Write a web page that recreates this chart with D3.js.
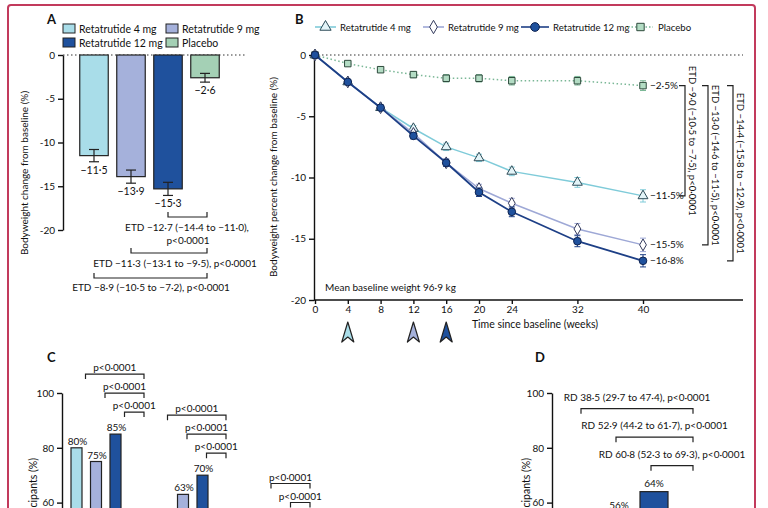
<!DOCTYPE html>
<html lang="en">
<head>
<meta charset="UTF-8">
<title>Retatrutide bodyweight change</title>
<script src="https://d3js.org/d3.v7.min.js"></script>
<style>
body { margin: 0; background: #fff; }
svg { display: block; font-family: Lato, "Noto Sans", sans-serif; fill: #111; }
.axis path, .axis line { stroke: #111; stroke-width: 1.4; }
.axis text { font-size: 10px; fill: #111; font-family: Lato, sans-serif; }
</style>
</head>
<body>
<svg id="chart" width="768" height="508"></svg>
<script>
// ---- data ----
const doses = ["Retatrutide 4 mg", "Retatrutide 9 mg", "Retatrutide 12 mg", "Placebo"];
const fillColors = ["#a9dde9", "#a5b1db", "#1f519d", "#a4d0b5"];
const lineColors = ["#7fcbd9", "#9ea8d6", "#1d3f86", "#7ab796"];

// A: change at week 40
const changeMean = [-11.5, -13.9, -15.3, -2.6];
const changeErr = [0.7, 0.75, 0.75, 0.5];
const changeLabels = ["−11·5", "−13·9", "−15·3", "−2·6"];
const etdA = ["ETD −12·7 (−14·4 to −11·0),", "ETD −11·3 (−13·1 to −9·5), p<0·0001", "ETD −8·9 (−10·5 to −7·2), p<0·0001"];

// B: time course
const weeks = [0, 4, 8, 12, 16, 20, 24, 32, 40];
const pct4 = [0, -2.2, -4.3, -6.0, -7.5, -8.4, -9.5, -10.4, -11.5];
const pct9 = [0, -2.2, -4.3, -6.4, -8.8, -10.9, -12.1, -14.2, -15.5];
const pct12 = [0, -2.2, -4.3, -6.6, -8.8, -11.2, -12.8, -15.2, -16.8];
const pctPbo = [0, -0.7, -1.2, -1.6, -1.9, -1.9, -2.1, -2.1, -2.5];
const se4 = [0, 0.15, 0.2, 0.25, 0.3, 0.3, 0.35, 0.4, 0.5];
const se9 = [0, 0.15, 0.2, 0.25, 0.3, 0.35, 0.4, 0.45, 0.55];
const se12 = [0, 0.15, 0.2, 0.25, 0.3, 0.35, 0.4, 0.45, 0.5];
const sePbo = [0, 0.15, 0.2, 0.25, 0.3, 0.3, 0.35, 0.35, 0.4];
const endLabels = ["−11·5%", "−15·5%", "−16·8%", "−2·5%"];
const etdB = ["ETD −9·0 (−10·5 to −7·5), p<0·0001", "ETD −13·0 (−14·6 to −11·5), p<0·0001", "ETD −14·4 (−15·8 to −12·9), p<0·0001"];
const titrationWeeks = [4, 12, 16];

// C: participants reaching weight-reduction thresholds
const thresholds = ["≥5%", "≥10%", "≥15%"];
const resp4 = [80, 47, 27];
const resp9 = [75, 63, 44];
const resp12 = [85, 70, 52];
const respPbo = [14, 4, 1];
const respPairs = [[0, 1, 2], [0, 1, 2], [1, 2]];

// D
const dPct = [42, 56, 64, 3];
const rdLabels = ["RD 38·5 (29·7 to 47·4), p<0·0001", "RD 52·9 (44·2 to 61·7), p<0·0001", "RD 60·8 (52·3 to 69·3), p<0·0001"];

// ---- drawing ----
const H = 508;
const svg = d3.select("#chart");
const fmtTick = d => d < 0 ? "-" + Math.abs(d) : String(d);

svg.append("rect").attr("x", 8).attr("y", 5).attr("width", 747).attr("height", 560)
    .attr("rx", 3).attr("fill", "none").attr("stroke", "#c23a5c").attr("stroke-width", 2);

function panelLabel(x, y, t) {
    svg.append("text").attr("x", x).attr("y", y).attr("font-size", 13).attr("font-weight", "bold").text(t);
}

// ---------- Panel A ----------
panelLabel(47, 24, "A");
const yA = d3.scaleLinear().domain([-20, 0]).range([230, 55]);
const xA = d3.scaleBand().domain(doses).range([75.5, 223.5]).paddingInner(0.23).paddingOuter(0.115);

// legend
doses.forEach((d, i) => {
    const lx = i % 2 === 0 ? 63 : 166, ly = i < 2 ? 24 : 38;
    svg.append("rect").attr("x", lx).attr("y", ly).attr("width", 12).attr("height", 9)
        .attr("fill", fillColors[i]).attr("stroke", "#222").attr("stroke-width", 1);
    svg.append("text").attr("x", lx + 16).attr("y", ly + 8.5).attr("font-size", 10.5).text(d);
});

svg.append("line").attr("x1", 63).attr("x2", 245).attr("y1", yA(0)).attr("y2", yA(0))
    .attr("stroke", "#333").attr("stroke-width", 1.2).attr("stroke-dasharray", "1.5,2.5");

svg.append("g").attr("class", "axis").attr("transform", "translate(63,0)")
    .call(d3.axisLeft(yA).tickValues([0, -5, -10, -15, -20]).tickFormat(fmtTick).tickSize(5).tickSizeOuter(0).tickPadding(3));

svg.append("g").selectAll("rect").data(doses).join("rect")
    .attr("x", d => xA(d)).attr("y", yA(0)).attr("width", xA.bandwidth())
    .attr("height", (d, i) => yA(changeMean[i]) - yA(0))
    .attr("fill", (d, i) => fillColors[i]).attr("stroke", "#222").attr("stroke-width", 1.2);

doses.forEach((d, i) => {
    const cx = xA(d) + xA.bandwidth() / 2;
    const lo = yA(changeMean[i] - changeErr[i]), hi = yA(changeMean[i] + changeErr[i]);
    const g = svg.append("g").attr("stroke", "#222").attr("stroke-width", 1.2);
    g.append("line").attr("x1", cx).attr("x2", cx).attr("y1", hi).attr("y2", lo);
    g.append("line").attr("x1", cx - 5).attr("x2", cx + 5).attr("y1", hi).attr("y2", hi);
    g.append("line").attr("x1", cx - 5).attr("x2", cx + 5).attr("y1", lo).attr("y2", lo);
    svg.append("text").attr("x", cx).attr("y", lo + 12).attr("text-anchor", "middle")
        .attr("font-size", 10.5).text(changeLabels[i]);
});

// ETD brackets (ticks up)
const cA = i => xA(doses[i]) + xA.bandwidth() / 2;
function bracketUp(x1, x2, y) {
    svg.append("path").attr("d", `M${x1},${y - 5}V${y}H${x2}V${y - 5}`)
        .attr("fill", "none").attr("stroke", "#222").attr("stroke-width", 1.2);
}
bracketUp(cA(2), cA(3) + 2, 217);
svg.append("text").attr("x", 187).attr("y", 231).attr("text-anchor", "middle").attr("font-size", 10).text(etdA[0]);
svg.append("text").attr("x", 188).attr("y", 244).attr("text-anchor", "middle").attr("font-size", 10).text("p<0·0001");
bracketUp(cA(1), cA(3) + 2, 253);
svg.append("text").attr("x", 175).attr("y", 267).attr("text-anchor", "middle").attr("font-size", 10).text(etdA[1]);
bracketUp(cA(0), cA(3) + 2, 278);
svg.append("text").attr("x", 151).attr("y", 291).attr("text-anchor", "middle").attr("font-size", 10).text(etdA[2]);

svg.append("text").attr("transform", "translate(28,173) rotate(-90)").attr("text-anchor", "middle")
    .attr("font-size", 10).text("Bodyweight change from baseline (%)");

// ---------- Panel B ----------
panelLabel(295, 24, "B");
const xB = d3.scaleLinear().domain([0, 40]).range([315, 643]);
const yB = d3.scaleLinear().domain([-20, 0]).range([300, 55]);
const series = [pct4, pct9, pct12, pctPbo];
const ses = [se4, se9, se12, sePbo];
const markers = [d3.symbolTriangle, d3.symbolDiamond, d3.symbolCircle, d3.symbolSquare];
const markerSizes = [42, 40, 46, 42];
const markerFill = ["#e3f4f8", "#ffffff", "#1f519d", "#b3dcc4"];
const markerStroke = ["#2d4b57", "#333a5c", "#0f2350", "#2e4a3c"];

svg.append("line").attr("x1", 314).attr("x2", 743).attr("y1", yB(0)).attr("y2", yB(0))
    .attr("stroke", "#333").attr("stroke-width", 1.2).attr("stroke-dasharray", "1.5,2.5");

svg.append("g").attr("class", "axis").attr("transform", "translate(314,0)")
    .call(d3.axisLeft(yB).tickValues([0, -5, -10, -15, -20]).tickFormat(fmtTick).tickSize(5).tickSizeOuter(0).tickPadding(3));
const xAxisB = svg.append("g").attr("class", "axis").attr("transform", "translate(0,300)")
    .call(d3.axisBottom(xB).tickValues(weeks).tickSize(4).tickSizeOuter(0).tickPadding(2));
xAxisB.select(".domain").attr("d", `M314,0H743`);

// legend B
const legLine = [[315, 336], [423, 444], [521, 549], [628, 653]];
const legText = [340, 448, 553, 658];
doses.forEach((d, i) => {
    const y = 27, [x1, x2] = legLine[i];
    svg.append("line").attr("x1", x1).attr("x2", x2).attr("y1", y).attr("y2", y)
        .attr("stroke", lineColors[i]).attr("stroke-width", 1.6)
        .attr("stroke-dasharray", i === 3 ? "1.5,2" : null);
    svg.append("path").attr("transform", `translate(${(x1 + x2) / 2},${y})`)
        .attr("d", d3.symbol(markers[i], markerSizes[i] * 1.3)())
        .attr("fill", markerFill[i]).attr("stroke", markerStroke[i]).attr("stroke-width", 1);
    svg.append("text").attr("x", legText[i]).attr("y", y + 3.5).attr("font-size", 9.6).text(d);
});

const order = [3, 0, 1, 2];
order.forEach(i => {
    const pts = weeks.map((w, k) => ({ w, v: series[i][k], e: ses[i][k] }));
    svg.append("path").datum(pts)
        .attr("d", d3.line().x(p => xB(p.w)).y(p => yB(p.v)))
        .attr("fill", "none").attr("stroke", lineColors[i])
        .attr("stroke-width", i === 2 ? 1.8 : 1.5)
        .attr("stroke-dasharray", i === 3 ? "1.5,2.5" : null);
    const eg = svg.append("g").attr("stroke", lineColors[i]).attr("stroke-width", 1);
    pts.filter(p => p.e > 0).forEach(p => {
        const x = xB(p.w), a = yB(p.v + p.e), b = yB(p.v - p.e);
        eg.append("line").attr("x1", x).attr("x2", x).attr("y1", a).attr("y2", b);
        eg.append("line").attr("x1", x - 3).attr("x2", x + 3).attr("y1", a).attr("y2", a);
        eg.append("line").attr("x1", x - 3).attr("x2", x + 3).attr("y1", b).attr("y2", b);
    });
    svg.append("g").selectAll("path").data(pts).join("path")
        .attr("transform", p => `translate(${xB(p.w)},${yB(p.v)})`)
        .attr("d", d3.symbol(markers[i], markerSizes[i])())
        .attr("fill", markerFill[i]).attr("stroke", markerStroke[i]).attr("stroke-width", 1);
    svg.append("text").attr("x", xB(40) + 7).attr("y", yB(series[i][8]) + 3.5)
        .attr("font-size", 10).text(endLabels[i]);
});

// ETD vertical brackets
const bx = [685, 708, 733];
[0, 1, 2].forEach(i => {
    const top = yB(pctPbo[8]), bot = yB(series[i][8]);
    svg.append("path").attr("d", `M${bx[i] - 6},${top}H${bx[i]}V${bot}H${bx[i] - 6}`)
        .attr("fill", "none").attr("stroke", "#222").attr("stroke-width", 1.2);
    svg.append("text").attr("transform", `translate(${bx[i] + 4},${(top + bot) / 2}) rotate(90)`)
        .attr("text-anchor", "middle").attr("font-size", 9.5).text(etdB[i]);
});

svg.append("text").attr("x", 325).attr("y", 291).attr("font-size", 10).text("Mean baseline weight 96·9 kg");
svg.append("text").attr("x", 535).attr("y", 328).attr("text-anchor", "middle").attr("font-size", 10.5).text("Time since baseline (weeks)");
svg.append("text").attr("transform", "translate(277,177) rotate(-90)").attr("text-anchor", "middle")
    .attr("font-size", 10).text("Bodyweight percent change from baseline (%)");

// titration arrows
titrationWeeks.forEach((w, i) => {
    svg.append("path").attr("transform", `translate(${xB(w)},322)`)
        .attr("d", "M0,0L6,20L0,15L-6,20Z")
        .attr("fill", fillColors[i]).attr("stroke", "#222").attr("stroke-width", 1.2).attr("stroke-linejoin", "round");
});

// ---------- Panel C ----------
panelLabel(47, 362, "C");
const yC = d3.scaleLinear().domain([0, 100]).range([667, 393]);
const xC = d3.scaleBand().domain(thresholds).range([66, 327]);
const xCin = d3.scaleBand().domain(doses).range([5, 74.5]).paddingInner(0.436);
const respAll = [resp4, resp9, resp12, respPbo];
const shiftC = [9, 4, 1];
const visibleTicks = [60, 80, 100];

svg.append("g").attr("class", "axis").attr("transform", "translate(62,0)")
    .call(d3.axisLeft(yC).tickValues(visibleTicks).tickSize(5).tickSizeOuter(0).tickPadding(3));

thresholds.forEach((t, g) => {
    doses.forEach((d, i) => {
        const v = respAll[i][g];
        const x = xC(t) + xCin(d);
        svg.append("rect").attr("x", x).attr("y", yC(v)).attr("width", xCin.bandwidth())
            .attr("height", yC(0) - yC(v)).attr("fill", fillColors[i]).attr("stroke", "#222").attr("stroke-width", 1.2);
        if (yC(v) - 3 < H) {
            svg.append("text").attr("x", x + xCin.bandwidth() / 2 + 1).attr("y", yC(v) - 3)
                .attr("text-anchor", "middle").attr("font-size", 10).text(v + "%");
        }
    });
    const topY = yC(d3.max(respAll, r => r[g]));
    const cx = i => xC(t) + xCin(doses[i]) + xCin.bandwidth() / 2 + shiftC[g];
    const pairs = respPairs[g];
    pairs.slice().reverse().forEach((i, k) => {
        const y = topY - 22 - k * 19;
        svg.append("path").attr("d", `M${cx(i)},${y + 5}V${y}H${cx(3)}V${y + 5}`)
            .attr("fill", "none").attr("stroke", "#222").attr("stroke-width", 1.2);
        svg.append("text").attr("x", (cx(i) + cx(3)) / 2).attr("y", y - 3)
            .attr("text-anchor", "middle").attr("font-size", 10).text("p<0·0001");
    });
});
svg.append("text").attr("transform", "translate(37,458) rotate(-90)").attr("text-anchor", "end")
    .attr("font-size", 10.5).text("Participants (%)");

// ---------- Panel D ----------
panelLabel(535, 362, "D");
const xD = d3.scaleBand().domain(doses).range([566.5, 706.5]).paddingInner(0.2).paddingOuter(0.1);
svg.append("g").attr("class", "axis").attr("transform", "translate(552,0)")
    .call(d3.axisLeft(yC).tickValues(visibleTicks).tickSize(5).tickSizeOuter(0).tickPadding(3));
doses.forEach((d, i) => {
    svg.append("rect").attr("x", xD(d)).attr("y", yC(dPct[i])).attr("width", xD.bandwidth())
        .attr("height", yC(0) - yC(dPct[i])).attr("fill", fillColors[i]).attr("stroke", "#222").attr("stroke-width", 1.2);
    if (yC(dPct[i]) - 5 < H + 4) {
        svg.append("text").attr("x", xD(d) + xD.bandwidth() / 2).attr("y", yC(dPct[i]) - 5)
            .attr("text-anchor", "middle").attr("font-size", 10).text(dPct[i] + "%");
    }
});
const topD = yC(d3.max(dPct));
const cD = i => xD(doses[i]) + xD.bandwidth() / 2;
[2, 1, 0].forEach((i, k) => {
    const y = topD - 26 - k * 28.5;
    const x1 = cD(i) - 3, x2 = cD(3) + 4;
    svg.append("path").attr("d", `M${x1},${y + 5}V${y}H${x2}V${y + 5}`)
        .attr("fill", "none").attr("stroke", "#222").attr("stroke-width", 1.2);
    svg.append("text").attr("x", (x1 + x2) / 2).attr("y", y - 8)
        .attr("text-anchor", "middle").attr("font-size", 10).text(rdLabels[i]);
});
svg.append("text").attr("transform", "translate(530,458) rotate(-90)").attr("text-anchor", "end")
    .attr("font-size", 10.5).text("Participants (%)");
</script>
</body>
</html>
